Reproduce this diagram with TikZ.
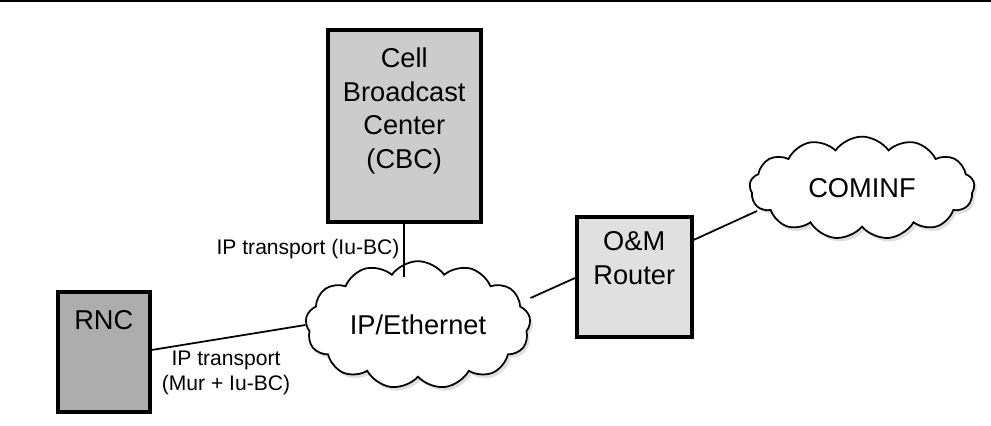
\documentclass[tikz,border=0pt]{standalone}
\usepackage{fontspec}
\setmainfont{Liberation Sans}
\usetikzlibrary{shapes.symbols, shadows}

\begin{document}
\begin{tikzpicture}[x=0.02cm,y=-0.02cm,
    box/.style={draw, line width=2pt, anchor=north west, inner sep=0pt},
    net/.style={cloud, cloud puffs=13, cloud puff arc=110, draw, line width=1pt, fill=white,
        aspect=2, drop shadow={shadow xshift=1.5pt, shadow yshift=-2pt, fill=black!25}},
    lbl/.style={font=\fontsize{12}{14}\selectfont, align=center},
    big/.style={font=\fontsize{15.5}{19}\selectfont, align=center}]
    \useasboundingbox (0,0) rectangle (991,426);
    \draw[line width=1pt] (0,1) -- (991,1);
    % boxes
    \node[box, fill=black!20, minimum width=153*0.02cm, minimum height=192*0.02cm] (cbc) at (326,28) {};
    \node[big, below=8pt] at (cbc.north) {Cell\\Broadcast\\Center\\(CBC)};
    \node[box, fill=black!32, minimum width=92*0.02cm, minimum height=120*0.02cm] (rnc) at (56,290) {};
    \node[big, below=8pt] at (rnc.north) {RNC};
    \node[box, fill=black!12, minimum width=115*0.02cm, minimum height=120*0.02cm] (router) at (575,215) {};
    \node[big, below=6pt] at (router.north) {O\&M\\Router};
    % clouds
    \node[net, big, minimum width=225*0.02cm, minimum height=110*0.02cm] (ip) at (418,325) {IP/Ethernet};
    \node[net, big, minimum width=225*0.02cm, minimum height=85*0.02cm] (cominf) at (862,188) {COMINF};
    \coordinate (ipTop) at (cbc.south |- 0,277);
    \coordinate (cmLeft) at (757,211);
    % links
    \draw[line width=1.2pt] (cbc.south) -- (ipTop);
    \draw[line width=1pt] (rnc.east |- 0,350) -- (ip.west);
    \draw[line width=1pt] (ip.east |- 0,298) -- (router.west |- 0,278);
    \draw[line width=1pt] (router.east |- 0,240) -- (cmLeft);
    % labels
    \node[lbl] (lIub) at (308,249) {IP transport (Iu-BC)};
    \node[lbl] (lMur) at (226,373) {IP transport\\(Mur + Iu-BC)};
\end{tikzpicture}
\end{document}
